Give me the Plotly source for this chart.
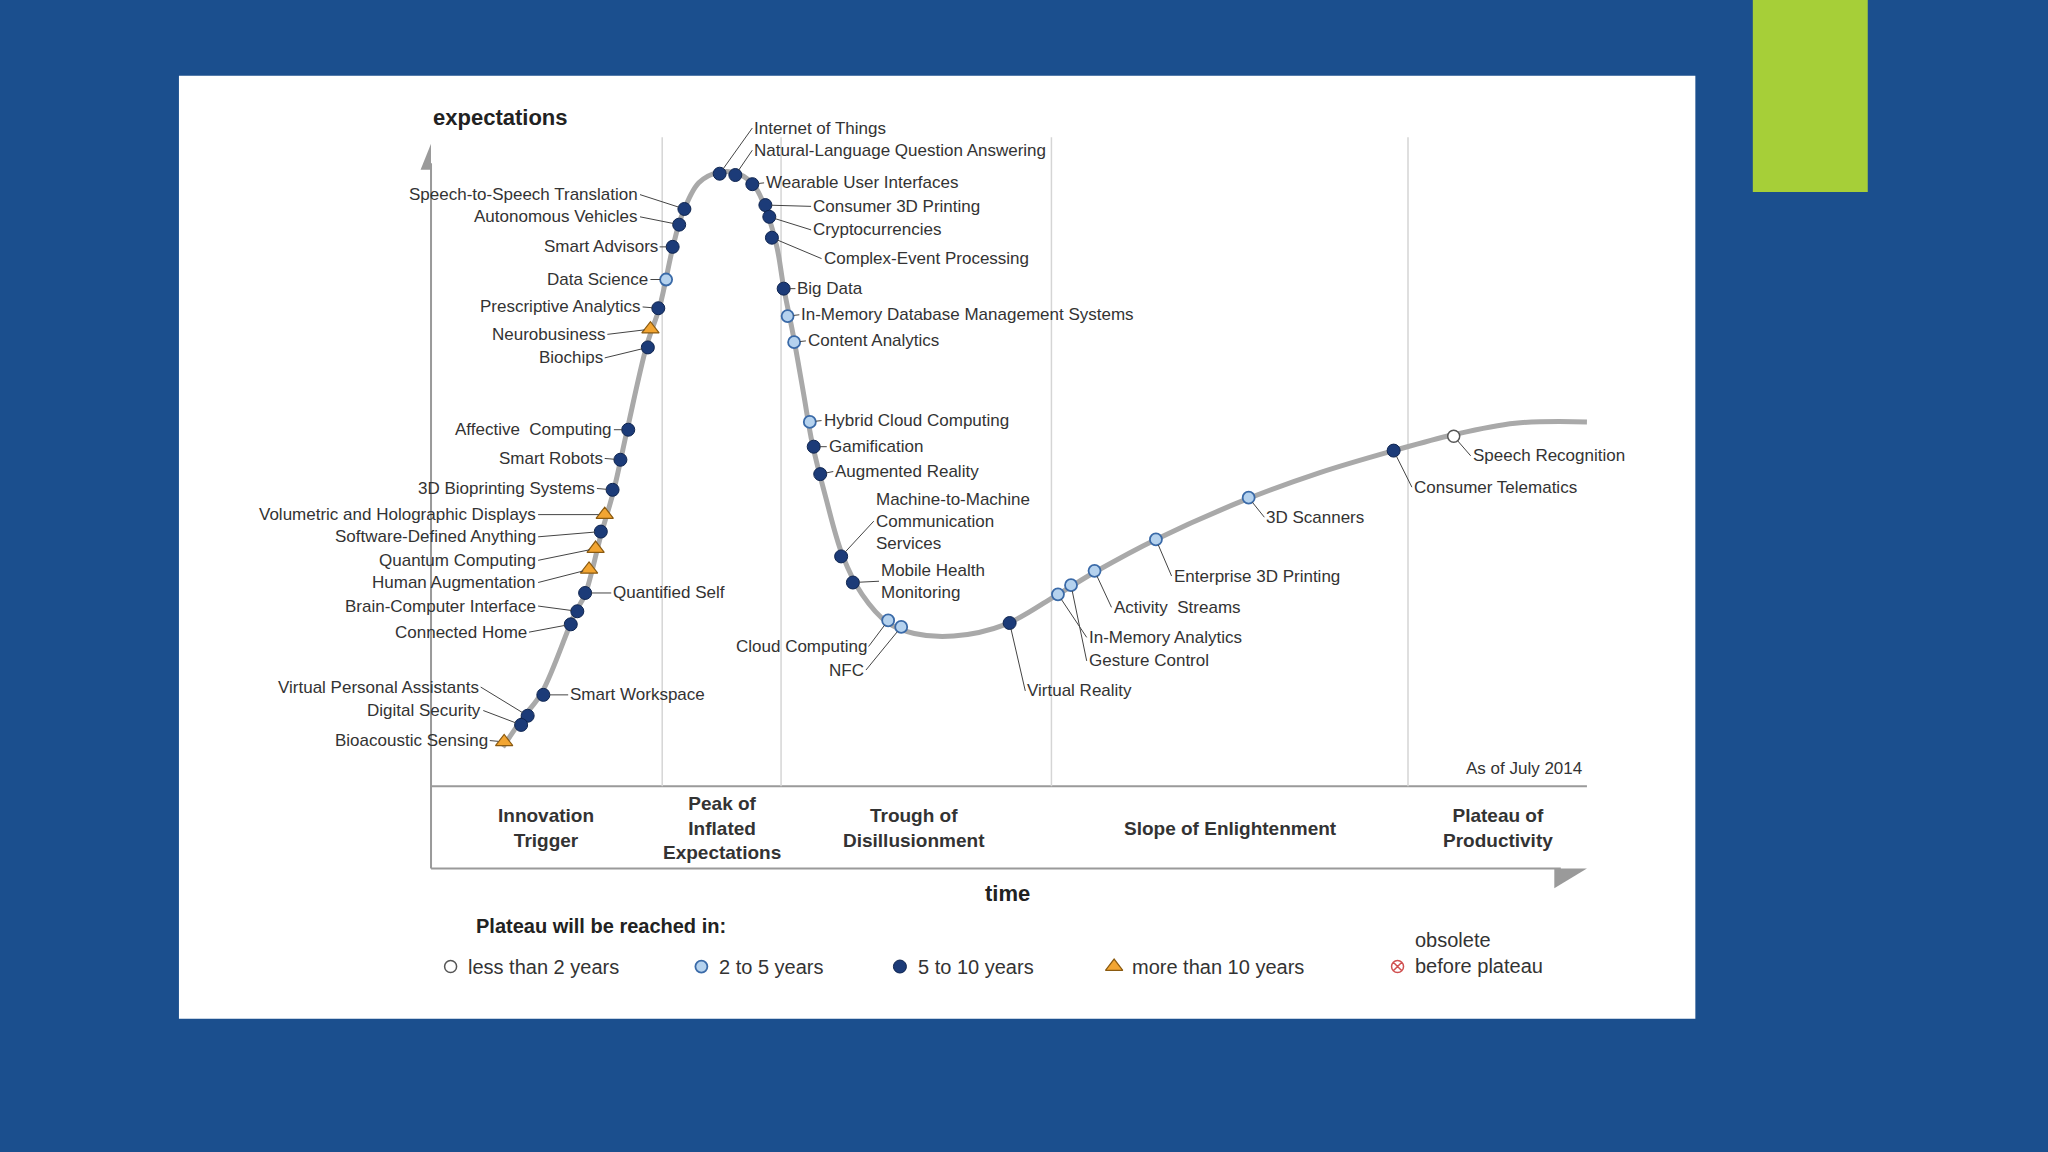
import plotly.graph_objects as go

# hype curve trace (picture coordinates of the slide, 1568 x 882 grid)
curve_x = [385, 400, 415, 440, 448, 460, 470, 480, 495, 505, 515, 522, 535, 550, 565, 578, 588, 595,
           600, 607, 615, 622, 632, 645, 660, 680, 700, 730, 770, 810, 840, 885, 955, 1010, 1067, 1112, 1160, 1215]
curve_y = [572, 550, 530, 470, 455, 410, 375, 330, 265, 235, 190, 165, 140, 132, 133, 143, 165, 190,
           220, 255, 300, 340, 380, 425, 455, 477, 485, 487, 478, 455, 437, 413, 382, 362, 345, 333, 324, 323]

# technologies: name, x, y, category, label x, label y, side
tech_names = ["Speech-to-Speech Translation", "Autonomous Vehicles", "Smart Advisors", "Data Science",
              "Prescriptive Analytics", "Neurobusiness", "Biochips", "Affective  Computing", "Smart Robots",
              "3D Bioprinting Systems", "Volumetric and Holographic Displays", "Software-Defined Anything",
              "Quantum Computing", "Human Augmentation", "Brain-Computer Interface", "Connected Home",
              "Quantified Self", "Virtual Personal Assistants", "Digital Security", "Bioacoustic Sensing",
              "Smart Workspace", "Internet of Things", "Natural-Language Question Answering",
              "Wearable User Interfaces", "Consumer 3D Printing", "Cryptocurrencies", "Complex-Event Processing",
              "Big Data", "In-Memory Database Management Systems", "Content Analytics", "Hybrid Cloud Computing",
              "Gamification", "Augmented Reality", "Machine-to-Machine<br>Communication<br>Services",
              "Mobile Health<br>Monitoring", "Cloud Computing", "NFC", "Virtual Reality", "In-Memory Analytics",
              "Gesture Control", "Activity  Streams", "Enterprise 3D Printing", "3D Scanners",
              "Consumer Telematics", "Speech Recognition"]
tech_x = [524, 520, 515, 510, 504, 498, 496, 481, 475, 469, 463, 460, 456, 451, 442, 437, 448, 404, 399, 386,
          416, 551, 563, 576, 586, 589, 591, 600, 603, 608, 620, 623, 628, 644, 653, 680, 690, 773, 810, 820,
          838, 885, 956, 1067, 1113]
tech_y = [160, 172, 189, 214, 236, 252, 266, 329, 352, 375, 394, 407, 420, 436, 468, 478, 454, 548, 555, 568,
          532, 133, 134, 141, 157, 166, 182, 221, 242, 262, 323, 342, 363, 426, 446, 475, 480, 477, 455, 448,
          437, 413, 381, 345, 334]
tech_cat = ["d", "d", "d", "l", "d", "t", "d", "d", "d", "d", "t", "d", "t", "t", "d", "d", "d", "d", "d", "t",
            "d", "d", "d", "d", "d", "d", "d", "d", "l", "l", "l", "d", "d", "d", "d", "l", "l", "d", "l", "l",
            "l", "l", "l", "d", "w"]
label_x = [490, 490, 505, 498, 492, 465, 463, 470, 463, 457, 412, 412, 412, 412, 412, 405, 468, 368, 370, 375,
           435, 576, 576, 585, 621, 621, 629, 609, 612, 617, 629, 633, 638, 669, 673, 665, 663, 785, 832, 832,
           851, 897, 968, 1081, 1126]
label_y = [149, 166, 189, 214, 235, 256, 274, 329, 351, 374, 394, 411, 429, 446, 464, 484, 454, 526, 544, 567,
           532, 98, 115, 140, 158, 176, 198, 221, 241, 261, 322, 342, 361, 399, 445, 495, 513, 529, 488, 506,
           465, 441, 396, 373, 349]
label_side = ["l"] * 16 + ["r"] + ["l"] * 3 + ["r"] * 15 + ["l", "l"] + ["r"] * 8

phase_names = ["Innovation<br>Trigger", "Peak of<br>Inflated<br>Expectations", "Trough of<br>Disillusionment",
               "Slope of Enlightenment", "Plateau of<br>Productivity"]
phase_x = [418, 553, 700, 942, 1147]
phase_lines = [507, 598, 805, 1078]

legend_names = ["less than 2 years", "2 to 5 years", "5 to 10 years", "more than 10 years", "obsolete<br>before plateau"]
legend_x = [345, 537, 689, 853, 1070]

styles = {
    "w": dict(symbol="circle", color="white", line=dict(color="#555555", width=1.5), size=12),
    "l": dict(symbol="circle", color="#b5d2ee", line=dict(color="#3a6aa8", width=1.8), size=12),
    "d": dict(symbol="circle", color="#1c3b78", line=dict(color="#0f2550", width=1), size=13),
    "t": dict(symbol="triangle-up", color="#f2a532", line=dict(color="#8a5a10", width=1.2), size=15),
    "x": dict(symbol="circle-x-open", color="#d05050", line=dict(color="#d05050", width=1.5), size=12),
}

FONT = "Liberation Sans, Arial, sans-serif"
fig = go.Figure()

fig.add_trace(go.Scatter(x=curve_x, y=curve_y, mode="lines", line=dict(color="#a9a9a9", width=5, shape="spline"),
                         hoverinfo="skip", showlegend=False))

for cat in ["d", "l", "w", "t"]:
    idx = [i for i, c in enumerate(tech_cat) if c == cat]
    fig.add_trace(go.Scatter(x=[tech_x[i] for i in idx], y=[tech_y[i] for i in idx], mode="markers",
                             marker=styles[cat], text=[tech_names[i] for i in idx], showlegend=False))

for i, name in enumerate(tech_names):
    fig.add_annotation(x=tech_x[i], y=tech_y[i], ax=label_x[i], ay=label_y[i], axref="x", ayref="y",
                       text=name, showarrow=True, arrowhead=0, arrowwidth=1, arrowcolor="#444444", standoff=6,
                       xanchor="right" if label_side[i] == "l" else "left", align="left",
                       font=dict(family=FONT, size=17, color="#333333"))

cats = ["w", "l", "d", "t", "x"]
for i, name in enumerate(legend_names):
    fig.add_trace(go.Scatter(x=[legend_x[i]], y=[740], mode="markers", marker=styles[cats[i]], showlegend=False))
    fig.add_annotation(x=legend_x[i] + 12, y=740 if i < 4 else 730, text=name, showarrow=False, xanchor="left",
                       align="left", font=dict(family=FONT, size=20, color="#333333"))

for px, name in zip(phase_x, phase_names):
    fig.add_annotation(x=px, y=634, text="<b>" + name + "</b>", showarrow=False,
                       font=dict(family=FONT, size=19, color="#333333"))

for t, x, y, s in [("<b>expectations</b>", 383, 90, 22), ("<b>time</b>", 771, 684, 22),
                   ("<b>Plateau will be reached in:</b>", 460, 709, 20)]:
    fig.add_annotation(x=x, y=y, text=t, showarrow=False, font=dict(family=FONT, size=s, color="#222222"))
fig.add_annotation(x=1213, y=588, text="As of July 2014", showarrow=False, xanchor="right",
                   font=dict(family=FONT, size=17, color="#333333"))

shapes = [
    dict(type="rect", x0=137, x1=1298, y0=58, y1=780, fillcolor="white", line=dict(width=0), layer="below"),
    dict(type="rect", x0=1342, x1=1430, y0=-5, y1=147, fillcolor="#a6cf38", line=dict(width=0), layer="below"),
    dict(type="line", x0=330, x1=330, y0=125, y1=665, line=dict(color="#9a9a9a", width=2), layer="below"),
    dict(type="path", path="M 322 130 L 330 110 L 330 130 Z", fillcolor="#9a9a9a", line=dict(width=0)),
    dict(type="line", x0=330, x1=1215, y0=602, y1=602, line=dict(color="#9a9a9a", width=2), layer="below"),
    dict(type="line", x0=330, x1=1195, y0=665, y1=665, line=dict(color="#9a9a9a", width=2), layer="below"),
    dict(type="path", path="M 1190 665 L 1215 665 L 1190 680 Z", fillcolor="#9a9a9a", line=dict(width=0)),
]
for lx in phase_lines:
    shapes.append(dict(type="line", x0=lx, x1=lx, y0=105, y1=602, line=dict(color="#d5d5d5", width=1.5),
                       layer="below"))

fig.update_layout(
    width=2048, height=1152, margin=dict(l=0, r=0, t=0, b=0),
    paper_bgcolor="#1b4f8e", plot_bgcolor="rgba(0,0,0,0)", shapes=shapes,
    xaxis=dict(range=[0, 1568], visible=False, fixedrange=True),
    yaxis=dict(range=[882, 0], visible=False, fixedrange=True),
)
fig.write_html("out.html", config={"displayModeBar": False},
               post_script="document.body.style.margin='0';document.body.style.background='#1b4f8e';")
